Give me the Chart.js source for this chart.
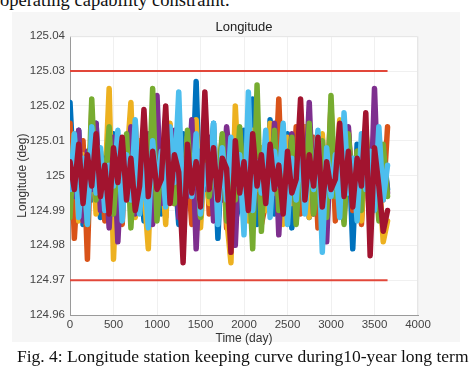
<!DOCTYPE html>
<html>
<head>
<meta charset="utf-8">
<script src="https://cdn.jsdelivr.net/npm/chart.js@4"></script>
<style>
  html, body { margin: 0; padding: 0; background: #fff; }
  body { width: 474px; height: 366px; position: relative; overflow: hidden; }
  #figbg { position: absolute; left: 12px; top: 12px; width: 448px; height: 330px; background: #f6f6f6; }
  #lead { position: absolute; left: 0; top: -10px; font: 18.5px "Liberation Serif", "Times New Roman", serif; color: #111; white-space: nowrap; }
  #caption { position: absolute; left: 17px; top: 346px; font: 17.5px "Liberation Serif", "Times New Roman", serif; color: #111; white-space: nowrap; }
  #chart { position: absolute; left: 0; top: 0; }
</style>
</head>
<body>
<div id="figbg"></div>
<div id="lead">operating capability constraint.</div>
<canvas id="chart" width="474" height="366"></canvas>
<div id="caption">Fig. 4: Longitude station keeping curve during10-year long term</div>
<script>
// sample days (every 50 days over the 10-year run)
const days = [
  0, 50, 100, 150, 200, 250, 300, 350, 400, 450, 500, 550, 600, 650, 700, 750, 800, 850, 900, 950,
  1000, 1050, 1100, 1150, 1200, 1250, 1300, 1350, 1400, 1450, 1500, 1550, 1600, 1650, 1700, 1750, 1800, 1850, 1900, 1950,
  2000, 2050, 2100, 2150, 2200, 2250, 2300, 2350, 2400, 2450, 2500, 2550, 2600, 2650, 2700, 2750, 2800, 2850, 2900, 2950,
  3000, 3050, 3100, 3150, 3200, 3250, 3300, 3350, 3400, 3450, 3500, 3550, 3600, 3650
];

// longitude (deg) of each run
const lonBlue = [
  125.021, 124.996, 125.013, 124.986, 125.007, 124.993, 125.015, 124.988, 125.004, 124.997,
  125.012, 124.985, 125.009, 124.995, 125.016, 124.990, 125.005, 124.987, 125.011, 124.998,
  125.006, 124.989, 125.014, 124.994, 125.003, 124.986, 125.012, 125.006, 124.993, 125.027,
  124.988, 125.008, 124.996, 125.015, 124.982, 125.010, 124.995, 125.004, 124.987, 124.992,
  125.013, 124.997, 125.022, 124.986, 125.007, 124.994, 125.016, 124.989, 125.005, 124.996,
  125.012, 124.985, 125.009, 124.998, 125.014, 124.988, 125.003, 124.993, 125.011, 124.986,
  125.015, 124.997, 125.006, 124.989, 125.012, 124.979, 125.009, 124.995, 125.004, 124.987,
  125.013, 124.994, 125.008, 124.996
];
const lonOrange = [
  125.015, 124.982, 125.003, 125.010, 124.976, 125.019, 124.995, 125.006, 124.987, 125.013,
  124.993, 125.004, 124.986, 125.011, 124.997, 125.015, 124.990, 125.007, 124.985, 125.012,
  124.996, 125.005, 124.988, 125.014, 124.992, 125.009, 124.998, 125.003, 124.986, 125.012,
  124.994, 125.016, 124.989, 125.006, 124.996, 125.011, 124.985, 125.008, 124.993, 125.013,
  124.988, 125.004, 124.997, 125.010, 124.986, 124.992, 125.012, 124.995, 125.022, 124.987,
  125.006, 124.993, 125.014, 124.989, 125.003, 124.997, 125.011, 124.985, 125.008, 124.994,
  125.020, 124.987, 125.005, 124.996, 125.013, 124.990, 125.007, 124.986, 125.010, 124.995,
  125.015, 125.009, 124.993, 125.014
];
const lonYellow = [
  124.995, 125.012, 124.987, 125.006, 124.993, 125.014, 124.989, 125.004, 124.996, 125.025,
  124.976, 125.008, 124.994, 125.003, 125.021, 124.988, 125.010, 124.996, 124.979, 125.013,
  124.991, 125.005, 124.986, 125.015, 124.997, 125.007, 124.989, 125.011, 124.994, 125.016,
  124.985, 125.004, 124.992, 125.012, 124.998, 125.006, 124.988, 124.975, 125.020, 124.993,
  125.005, 124.987, 125.013, 124.996, 125.008, 124.990, 125.015, 124.995, 125.003, 124.986,
  125.011, 124.992, 125.007, 124.997, 125.014, 124.988, 125.006, 124.994, 125.012, 124.985,
  125.004, 124.996, 125.016, 124.989, 125.009, 124.993, 125.005, 124.987, 125.013, 124.995,
  125.008, 125.002, 124.981, 124.987
];
const lonPurple = [
  125.004, 124.994, 125.013, 124.987, 125.007, 124.996, 125.015, 124.990, 125.005, 124.985,
  125.011, 124.981, 125.006, 124.995, 125.014, 124.989, 125.003, 124.997, 125.012, 124.986,
  125.023, 124.992, 125.008, 124.998, 125.013, 124.988, 125.005, 124.994, 125.016, 124.979,
  125.007, 124.996, 125.011, 124.987, 125.004, 124.993, 125.014, 125.002, 124.980, 125.010,
  124.995, 125.006, 124.988, 125.013, 124.997, 125.004, 124.990, 125.015, 124.983, 125.009,
  124.996, 125.012, 124.987, 125.005, 124.994, 125.021, 124.989, 125.007, 125.003, 124.981,
  125.011, 124.995, 125.006, 124.987, 125.014, 124.992, 125.004, 124.997, 125.012, 124.986,
  125.025, 124.990, 125.008, 124.995
];
const lonGreen = [
  124.988, 125.011, 124.995, 125.004, 124.986, 125.022, 124.993, 125.007, 124.997, 125.014,
  124.989, 125.005, 124.996, 125.012, 124.985, 125.008, 124.994, 125.015, 124.990, 125.025,
  124.987, 125.006, 124.997, 125.011, 124.992, 125.003, 124.986, 125.013, 124.995, 125.009,
  124.988, 125.016, 124.994, 125.005, 124.998, 125.012, 124.987, 125.007, 124.993, 125.014,
  124.996, 125.004, 124.979, 125.026, 124.984, 125.008, 124.995, 125.013, 124.990, 125.005,
  124.997, 125.011, 124.986, 125.007, 124.993, 125.015, 124.989, 124.998, 125.010, 124.988,
  125.023, 124.994, 125.005, 124.986, 125.012, 124.996, 125.007, 124.990, 125.014, 124.993,
  125.004, 124.987, 125.009, 124.994
];
const lonLightBlue = [
  124.996, 125.012, 124.988, 125.005, 124.986, 125.014, 124.995, 125.008, 124.990, 125.003,
  124.997, 125.013, 124.987, 125.006, 124.993, 125.016, 124.989, 125.004, 124.985, 125.010,
  124.996, 125.007, 124.991, 125.014, 124.998, 125.024, 124.987, 125.005, 124.994, 125.012,
  124.989, 125.003, 124.996, 125.015, 124.986, 125.008, 124.993, 125.011, 124.997, 125.006,
  124.983, 125.024, 124.990, 125.004, 124.995, 125.013, 124.988, 125.007, 124.997, 125.015,
  124.986, 125.005, 124.993, 125.011, 124.989, 125.004, 124.996, 125.013, 124.978, 125.008,
  124.994, 125.006, 124.988, 125.018, 124.995, 125.005, 124.987, 125.012, 124.996, 125.007,
  124.990, 125.014, 124.993, 125.003
];
const lonDarkRed = [
  125.004, 124.996, 125.009, 124.992, 125.006, 124.997, 125.012, 124.994, 125.003, 124.989,
  125.008, 124.998, 125.011, 124.993, 125.005, 124.990, 124.997, 125.019, 124.994, 125.007,
  124.996, 124.999, 125.020, 124.992, 125.006, 125.001, 124.975, 125.009, 124.995, 125.004,
  124.991, 125.024, 124.996, 125.008, 124.993, 125.005, 125.002, 124.978, 125.010, 124.995,
  125.004, 124.990, 125.012, 124.997, 125.006, 124.992, 125.009, 124.996, 125.003, 124.989,
  125.007, 124.995, 124.999, 125.022, 124.993, 125.006, 124.997, 125.011, 124.991, 125.004,
  124.996, 124.999, 125.015, 124.994, 125.007, 124.991, 125.005, 124.997, 125.018, 124.977,
  125.008, 124.997, 124.984, 124.990
];

// station keeping box limits
const limitDays = [0, 3650];
const upperLimit = 125.03;
const lowerLimit = 124.97;

const xTicks = [0, 500, 1000, 1500, 2000, 2500, 3000, 3500, 4000];
const yTicks = [124.96, 124.97, 124.98, 124.99, 125, 125.01, 125.02, 125.03, 125.04];

const runs = [
  { values: lonBlue, color: '#0072BD' },
  { values: lonOrange, color: '#D95319' },
  { values: lonYellow, color: '#EDB120' },
  { values: lonPurple, color: '#7E2F8E' },
  { values: lonGreen, color: '#77AC30' },
  { values: lonLightBlue, color: '#4DBEEE' },
  { values: lonDarkRed, color: '#A2142F' }
];

// later runs are painted over earlier ones (lower order = drawn on top)
const datasets = runs.map((r, i) => ({
  data: days.map((d, k) => ({ x: d, y: r.values[k] })),
  borderColor: r.color,
  borderWidth: 5.5,
  borderCapStyle: 'round',
  borderJoinStyle: 'round',
  pointRadius: 0,
  tension: 0,
  order: runs.length - i + 1
}));
[upperLimit, lowerLimit].forEach(v => {
  datasets.push({
    data: limitDays.map(d => ({ x: d, y: v })),
    borderColor: '#E2473A',
    borderWidth: 2,
    pointRadius: 0,
    order: 0
  });
});

// white axes box, thin frame on top/right like matlab
const axesBox = {
  id: 'axesBox',
  beforeDraw(chart) {
    const { ctx, chartArea: a } = chart;
    ctx.save();
    ctx.fillStyle = '#ffffff';
    ctx.fillRect(a.left, a.top, a.right - a.left, a.bottom - a.top);
    ctx.restore();
  },
  afterDraw(chart) {
    const { ctx, chartArea: a } = chart;
    ctx.save();
    ctx.strokeStyle = '#e6e6e6';
    ctx.lineWidth = 1;
    ctx.beginPath();
    ctx.moveTo(a.left, a.top + 0.5);
    ctx.lineTo(a.right - 0.5, a.top + 0.5);
    ctx.lineTo(a.right - 0.5, a.bottom);
    ctx.stroke();
    ctx.restore();
  }
};

const tickFont = { family: 'Liberation Sans, Arial, sans-serif', size: 11.5 };

new Chart(document.getElementById('chart'), {
  type: 'line',
  data: { datasets },
  plugins: [axesBox],
  options: {
    responsive: false,
    animation: false,
    devicePixelRatio: 1,
    layout: { padding: { top: 0, right: 56, bottom: 0, left: 0 } },
    plugins: {
      legend: { display: false },
      tooltip: { enabled: false },
      title: {
        display: true,
        text: 'Longitude',
        fullSize: false,
        color: '#222',
        font: { family: 'Liberation Sans, Arial, sans-serif', size: 13, weight: 'normal' },
        padding: { top: 20, bottom: 0.6 }
      }
    },
    scales: {
      x: {
        type: 'linear',
        min: 0,
        max: 4000,
        afterBuildTicks: s => { s.ticks = xTicks.map(v => ({ value: v })); },
        afterFit: s => { s.height = 51; },
        ticks: { color: '#444', font: tickFont, padding: 3, maxRotation: 0, callback: v => String(v) },
        grid: { color: '#f0f0f0', drawTicks: false },
        border: { color: '#9a9a9a' },
        title: {
          display: true,
          text: 'Time (day)',
          color: '#333',
          font: { family: 'Liberation Sans, Arial, sans-serif', size: 12 },
          padding: { top: 0, bottom: 20 }
        }
      },
      y: {
        min: 124.96,
        max: 125.04,
        afterBuildTicks: s => { s.ticks = yTicks.map(v => ({ value: v })); },
        afterFit: s => { s.width = 70; },
        ticks: {
          color: '#444',
          font: tickFont,
          padding: 5,
          callback: v => String(Math.round(v * 100) / 100)
        },
        grid: { color: '#f0f0f0', drawTicks: false },
        border: { color: '#9a9a9a' },
        title: {
          display: true,
          text: 'Longitude (deg)',
          color: '#333',
          font: { family: 'Liberation Sans, Arial, sans-serif', size: 12 },
          padding: { top: 15, bottom: 0 }
        }
      }
    }
  }
});
</script>
</body>
</html>
